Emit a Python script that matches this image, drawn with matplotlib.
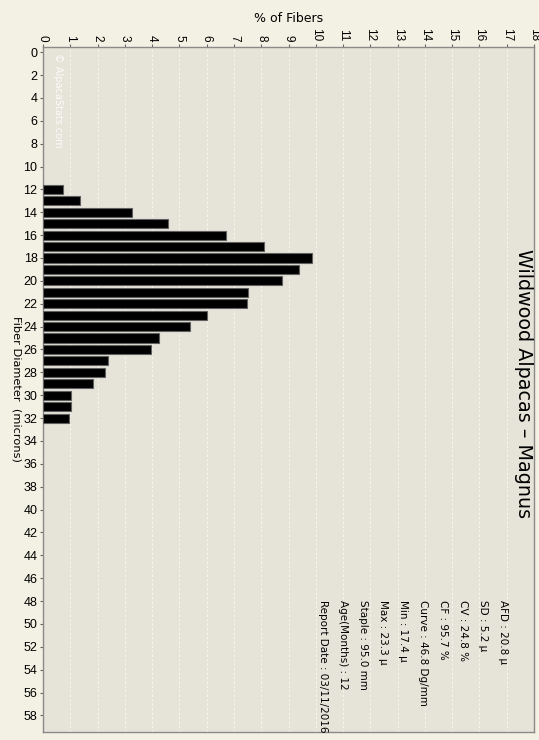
import matplotlib
matplotlib.use("Agg")
import matplotlib.pyplot as plt

diameters = [12, 13, 14, 15, 16, 17, 18, 19, 20, 21, 22, 23, 24, 25, 26, 27, 28, 29, 30, 31, 32]
percent = [0.74, 1.34, 3.25, 4.58, 6.70, 8.12, 9.86, 9.39, 8.75, 7.51, 7.47, 6.01, 5.38, 4.27, 3.96, 2.40, 2.29, 1.83, 1.03, 1.03, 0.95]
x_ticks = list(range(0, 19))
y_ticks = list(range(0, 60, 2))
title = "Wildwood Alpacas \u2013 Magnus"
stats = ["AFD : 20.8 \u00b5", "SD : 5.2 \u00b5", "CV : 24.8 %", "CF : 95.7 %",
         "Curve : 46.8 Dg/mm", "Min : 17.4 \u00b5", "Max : 23.3 \u00b5",
         "Staple : 95.0 mm", "Age(Months) : 12", "Report Date : 03/11/2016"]

tick_family = "Liberation Sans"

W, H = 539, 740
fig = plt.figure(figsize=(W / 100, H / 100), dpi=100, facecolor="#F3F1E3")
ax = fig.add_axes([43 / W, 1 - 732 / H, (534 - 43) / W, (732 - 47) / H])
ax.set_facecolor("#E6E4D9")

ax.set_xlim(0, 18)
ax.set_ylim(59.45, -0.45)
ax.xaxis.tick_top()
ax.set_xticks(x_ticks)
ax.set_yticks(y_ticks)
ax.tick_params(axis="x", labelrotation=-90, labelsize=8.5, length=2, pad=2, colors="#666666")
ax.tick_params(axis="y", labelsize=9, length=2, pad=2, colors="#666666")
for lab in ax.get_xticklabels() + ax.get_yticklabels():
    lab.set_color("black")
    lab.set_family(tick_family)

ax.grid(axis="x", color="#F7F6EE", linestyle=(0, (2, 2)), linewidth=0.8)
ax.set_axisbelow(True)
for s in ax.spines.values():
    s.set_color("#8A8A8A")
    s.set_linewidth(1.0)

ax.barh(diameters, percent, height=0.8, color="black", edgecolor="#606060", linewidth=0.8, zorder=3)

# watermark
fig.text(57.5 / W, 1 - 53 / H, "\u00a9 AlpacaStats.com", rotation=270, ha="center", va="top",
         color="white", alpha=0.85, fontsize=7)

# axis labels
fig.text(288.5 / W, 1 - 18 / H, "% of Fibers", ha="center", va="center", fontsize=9)
fig.text(16 / W, 1 - 389 / H, "Fiber Diameter  (microns)", rotation=270, ha="center", va="center", fontsize=8.2)

# title
fig.text(523 / W, 1 - 384 / H, title, rotation=270, ha="center", va="center", fontsize=13.8)

# stats
x0 = 503.0
for i, s in enumerate(stats):
    fig.text((x0 - i * 20.05) / W, 1 - 600 / H, s, rotation=270, ha="center", va="top", fontsize=7.5)

fig.savefig("out.png", dpi=100, facecolor=fig.get_facecolor())
